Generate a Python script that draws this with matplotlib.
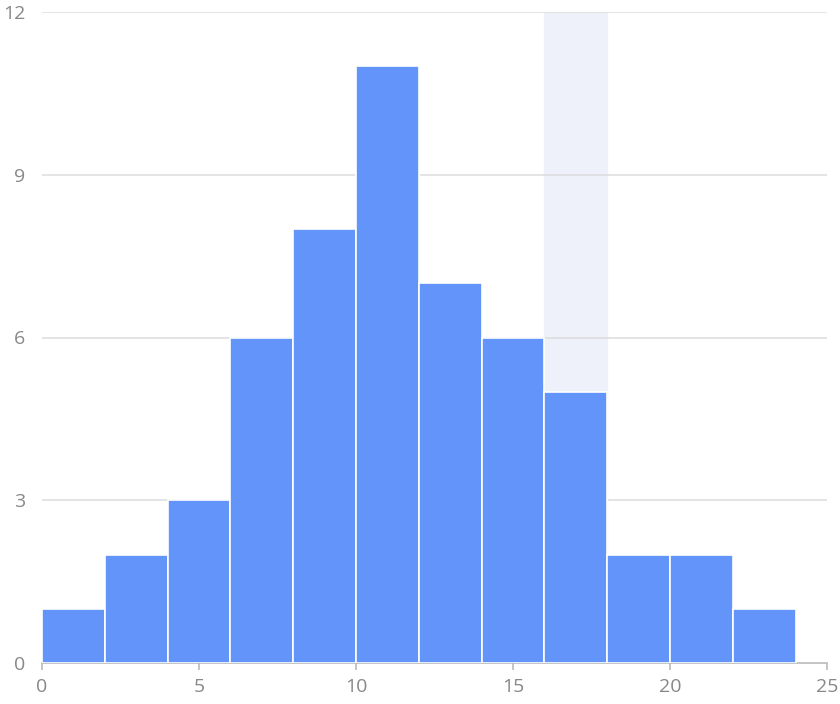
import numpy as np
import matplotlib
matplotlib.use("Agg")
import matplotlib.pyplot as plt

plt.rcParams['font.family'] = ['Open Sans', 'DejaVu Sans']

# Histogram data: bin edges and counts
bin_edges = [0, 2, 4, 6, 8, 10, 12, 14, 16, 18, 20, 22, 24]
counts = [1, 2, 3, 6, 8, 11, 7, 6, 5, 2, 2, 1]
highlight_bin = (16, 18)
x_ticks = [0, 5, 10, 15, 20, 25]
y_ticks = [0, 3, 6, 9, 12]

fig = plt.figure(figsize=(8.4, 7.04), dpi=100)
ax = fig.add_axes([42 / 840, 1 - 663 / 704, (827 - 42) / 840, (663 - 12) / 704])

# hover band
ax.axvspan(highlight_bin[0], highlight_bin[1], color='#eef1fa', zorder=0)

for y in y_ticks[1:]:
    ax.axhline(y, color='#dcdcdc', lw=1.1, zorder=1)

lefts = np.array(bin_edges[:-1])
widths = np.diff(bin_edges)
ax.bar(lefts, counts, width=widths, align='edge', color='#6294f9',
       edgecolor='white', linewidth=1.2, zorder=3)

ax.set_xlim(0, 25)
ax.set_ylim(0, 12)
ax.set_xticks(x_ticks)
ax.set_yticks(y_ticks)

for s in ['top', 'right', 'left']:
    ax.spines[s].set_visible(False)
ax.spines['bottom'].set_color('#bbbbbb')
ax.spines['bottom'].set_linewidth(1.2)
ax.spines['bottom'].set_zorder(2)

ax.tick_params(axis='x', colors='#bbbbbb', length=5, width=1.2, labelcolor='#888888',
               labelsize=14, pad=6)
ax.tick_params(axis='y', length=0, labelcolor='#888888', labelsize=14, pad=12)

fig.savefig('out.png', dpi=100)
